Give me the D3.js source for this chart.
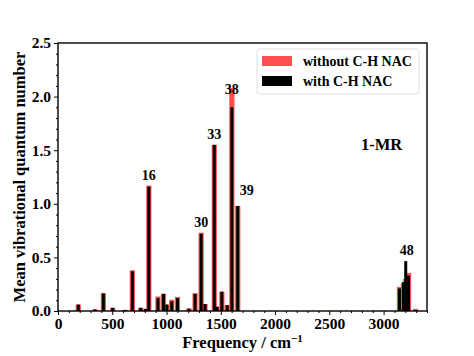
<!DOCTYPE html>
<html><head><meta charset="utf-8">
<script src="https://cdn.jsdelivr.net/npm/d3@7"></script>
<style>body{margin:0;background:#fff}svg{display:block}</style>
</head><body>
<script>
// Data
const freqs      = [187, 341, 418, 504, 617, 685, 762, 808, 837, 921, 972, 1003, 1048, 1101, 1207, 1263, 1319, 1355, 1440, 1465, 1510, 1559, 1602, 1656, 3146, 3183, 3204, 3230, 3295];
const withoutNAC = [0.06, 0.015, 0.165, 0.03, 0.01, 0.38, 0.03, 0.02, 1.17, 0.135, 0.16, 0.06, 0.105, 0.13, 0.025, 0.165, 0.73, 0.065, 1.55, 0.04, 0.18, 0.055, 2.08, 0.98, 0.225, 0.26, 0.30, 0.355, 0.02];
const withNAC    = [0.06, 0.015, 0.165, 0.03, 0.01, 0.37, 0.03, 0.02, 1.16, 0.12, 0.16, 0.06, 0.09, 0.12, 0.02, 0.16, 0.72, 0.065, 1.55, 0.04, 0.18, 0.055, 1.90, 0.98, 0.21, 0.27, 0.465, 0.33, 0.01];
const modeLabels = ["16", "30", "33", "38", "39", "48"];
const modeFreqs  = [837, 1319, 1440, 1602, 1656, 3204];
const modeVals   = [1.17, 0.73, 1.55, 2.08, 0.98, 0.465];
const xTicks = [0, 500, 1000, 1500, 2000, 2500, 3000];
const yTicks = [0.0, 0.5, 1.0, 1.5, 2.0, 2.5];
const seriesNames = ["without C-H NAC", "with C-H NAC"];

const W = 474, H = 356;
const m = {l: 58, r: 47, t: 43, b: 45};
const svg = d3.select("body").append("svg").attr("width", W).attr("height", H);
const font = "'Liberation Serif','Times New Roman',serif";

const x = d3.scaleLinear().domain([0, 3400]).range([m.l, W - m.r]);
const y = d3.scaleLinear().domain([0, 2.5]).range([H - m.b, m.t]);

// bars
const red = "#ff4f4f";
svg.append("g").selectAll("rect").data(freqs).join("rect")
  .attr("x", (d) => x(d) - 2.6).attr("width", 5.2)
  .attr("y", (d, i) => y(withoutNAC[i])).attr("height", (d, i) => y(0) - y(withoutNAC[i]))
  .attr("fill", red);
svg.append("g").selectAll("rect").data(freqs).join("rect")
  .attr("x", (d) => x(d) - 1.5).attr("width", 3)
  .attr("y", (d, i) => y(withNAC[i])).attr("height", (d, i) => y(0) - y(withNAC[i]))
  .attr("fill", "#000");

// axes
svg.append("g").attr("transform", `translate(0,${H - m.b})`)
  .call(d3.axisBottom(x).tickValues(xTicks).tickFormat(d3.format("d")).tickSize(4).tickPadding(3));
svg.append("g").attr("transform", `translate(0,${H - m.b})`)
  .call(d3.axisBottom(x).tickValues(d3.range(0, 3401, 100).filter(v => v % 500)).tickFormat("").tickSize(2));
svg.append("g").attr("transform", `translate(${m.l},0)`)
  .call(d3.axisLeft(y).tickValues(yTicks).tickFormat(d3.format(".1f")).tickSize(4).tickPadding(3));
svg.append("g").attr("transform", `translate(${m.l},0)`)
  .call(d3.axisLeft(y).tickValues(d3.range(0, 2.5, 0.1).filter((v, i) => i % 5)).tickFormat("").tickSize(2));
svg.selectAll(".tick text").attr("font-family", font).attr("font-weight", "bold").attr("font-size", 15.5).attr("fill", "#000");
svg.selectAll(".domain").remove();
svg.selectAll(".tick line").attr("stroke", "#000").attr("stroke-width", 1);

// frame
svg.append("rect").attr("x", m.l).attr("y", m.t).attr("width", W - m.r - m.l).attr("height", H - m.b - m.t)
  .attr("fill", "none").attr("stroke", "#000").attr("stroke-width", 1.4);

// mode labels
const dx = [0, 0, 0, 0, 9, 1];
const dy = [-6, -6, -6, 6, -11, -6];
svg.append("g").selectAll("text").data(modeLabels).join("text")
  .attr("x", (d, i) => x(modeFreqs[i]) + dx[i])
  .attr("y", (d, i) => y(modeVals[i]) + dy[i])
  .attr("text-anchor", "middle").attr("font-family", font).attr("font-weight", "bold").attr("font-size", 14)
  .text(d => d);

// legend
const lg = svg.append("g");
lg.append("rect").attr("x", 257).attr("y", 49).attr("width", 162).attr("height", 45).attr("rx", 3)
  .attr("fill", "#fff").attr("stroke", "#e0e0e0").attr("stroke-width", 1);
const swCol = [red, "#000"];
seriesNames.forEach((n, i) => {
  lg.append("rect").attr("x", 262).attr("y", 56 + i * 20).attr("width", 30).attr("height", 10).attr("fill", swCol[i]);
  lg.append("text").attr("x", 303).attr("y", 66 + i * 20).attr("font-family", font).attr("font-weight", "bold")
    .attr("font-size", 14).text(n);
});

svg.append("text").attr("x", 361).attr("y", 150).attr("font-family", font).attr("font-weight", "bold")
  .attr("font-size", 16.5).text("1-MR");

// axis titles
svg.append("text").attr("transform", `translate(25,${(m.t + H - m.b) / 2}) rotate(-90)`)
  .attr("text-anchor", "middle").attr("font-family", font).attr("font-weight", "bold").attr("font-size", 16.5)
  .text("Mean vibrational quantum number");
const xl = svg.append("text").attr("x", (m.l + W - m.r) / 2).attr("y", 348)
  .attr("text-anchor", "middle").attr("font-family", font).attr("font-weight", "bold").attr("font-size", 16.5);
xl.append("tspan").text("Frequency / cm");
xl.append("tspan").attr("dy", -6).attr("font-size", 11).text("−1");
</script>
</body></html>
